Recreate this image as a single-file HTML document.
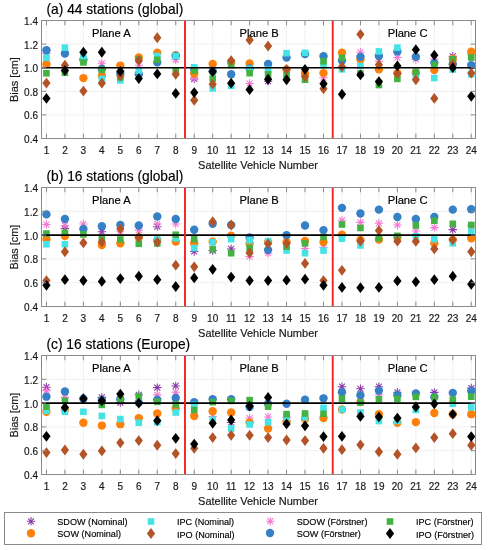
<!DOCTYPE html><html><head><meta charset="utf-8"><title>Bias</title><style>html,body{margin:0;padding:0;background:#fff;}svg{display:block;}</style></head><body><svg width="488" height="550" viewBox="0 0 488 550">
<rect width="488" height="550" fill="#fff"/>
<path d="M46.45 20.5V138.5M64.92 20.5V138.5M83.39 20.5V138.5M101.86 20.5V138.5M120.33 20.5V138.5M138.8 20.5V138.5M157.27 20.5V138.5M175.74 20.5V138.5M194.21 20.5V138.5M212.68 20.5V138.5M231.15 20.5V138.5M249.62 20.5V138.5M268.09 20.5V138.5M286.56 20.5V138.5M305.03 20.5V138.5M323.5 20.5V138.5M341.97 20.5V138.5M360.44 20.5V138.5M378.91 20.5V138.5M397.38 20.5V138.5M415.85 20.5V138.5M434.32 20.5V138.5M452.79 20.5V138.5M471.26 20.5V138.5M41.5 114.9H475.5M41.5 91.3H475.5M41.5 67.7H475.5M41.5 44.1H475.5" stroke="#f1f1f1" stroke-width="1" fill="none"/>
<path d="M190.01 78.91H198.41M194.21 74.71V83.11M191.24 75.94L197.18 81.88M191.24 81.88L197.18 75.94" stroke="#8a3aa6" stroke-width="1.05" fill="none"/>
<path d="M263.89 81.27H272.29M268.09 77.07V85.47M265.12 78.3L271.06 84.24M265.12 84.24L271.06 78.3" stroke="#8a3aa6" stroke-width="1.05" fill="none"/>
<path d="M448.59 56.25H456.99M452.79 52.05V60.45M449.82 53.28L455.76 59.22M449.82 59.22L455.76 53.28" stroke="#8a3aa6" stroke-width="1.05" fill="none"/>
<path d="M42.25 53.78H50.65M46.45 49.58V57.98M43.48 50.81L49.42 56.75M43.48 56.75L49.42 50.81" stroke="#f27ad2" stroke-width="1.05" fill="none"/>
<path d="M97.66 63.33H106.06M101.86 59.13V67.53M98.89 60.36L104.83 66.3M98.89 66.3L104.83 60.36" stroke="#f27ad2" stroke-width="1.05" fill="none"/>
<path d="M134.6 65.22H143M138.8 61.02V69.42M135.83 62.25L141.77 68.19M135.83 68.19L141.77 62.25" stroke="#f27ad2" stroke-width="1.05" fill="none"/>
<path d="M171.54 59.79H179.94M175.74 55.59V63.99M172.77 56.82L178.71 62.76M172.77 62.76L178.71 56.82" stroke="#f27ad2" stroke-width="1.05" fill="none"/>
<path d="M190.01 77.73H198.41M194.21 73.53V81.93M191.24 74.76L197.18 80.7M191.24 80.7L197.18 74.76" stroke="#f27ad2" stroke-width="1.05" fill="none"/>
<path d="M245.42 83.51H253.82M249.62 79.31V87.71M246.65 80.54L252.59 86.48M246.65 86.48L252.59 80.54" stroke="#f27ad2" stroke-width="1.05" fill="none"/>
<path d="M319.3 77.73H327.7M323.5 73.53V81.93M320.53 74.76L326.47 80.7M320.53 80.7L326.47 74.76" stroke="#f27ad2" stroke-width="1.05" fill="none"/>
<path d="M356.24 52.24H364.64M360.44 48.04V56.44M357.47 49.27L363.41 55.21M357.47 55.21L363.41 49.27" stroke="#f27ad2" stroke-width="1.05" fill="none"/>
<path d="M374.71 61.33H383.11M378.91 57.13V65.53M375.94 58.36L381.88 64.3M375.94 64.3L381.88 58.36" stroke="#f27ad2" stroke-width="1.05" fill="none"/>
<path d="M393.18 57.55H401.58M397.38 53.35V61.75M394.41 54.58L400.35 60.52M394.41 60.52L400.35 54.58" stroke="#f27ad2" stroke-width="1.05" fill="none"/>
<path d="M411.65 59.44H420.05M415.85 55.24V63.64M412.88 56.47L418.82 62.41M412.88 62.41L418.82 56.47" stroke="#f27ad2" stroke-width="1.05" fill="none"/>
<path d="M430.12 58.97H438.52M434.32 54.77V63.17M431.35 56L437.29 61.94M431.35 61.94L437.29 56" stroke="#f27ad2" stroke-width="1.05" fill="none"/>
<path d="M467.06 54.72H475.46M471.26 50.52V58.92M468.29 51.75L474.23 57.69M468.29 57.69L474.23 51.75" stroke="#f27ad2" stroke-width="1.05" fill="none"/>
<circle cx="46.45" cy="64.16" r="4.2" fill="#fd800a"/>
<circle cx="83.39" cy="78.08" r="4.2" fill="#fd800a"/>
<circle cx="101.86" cy="75.84" r="4.2" fill="#fd800a"/>
<circle cx="120.33" cy="65.58" r="4.2" fill="#fd800a"/>
<circle cx="138.8" cy="57.55" r="4.2" fill="#fd800a"/>
<circle cx="157.27" cy="52.6" r="4.2" fill="#fd800a"/>
<circle cx="175.74" cy="55.19" r="4.2" fill="#fd800a"/>
<circle cx="194.21" cy="73.48" r="4.2" fill="#fd800a"/>
<circle cx="212.68" cy="63.92" r="4.2" fill="#fd800a"/>
<circle cx="231.15" cy="62.39" r="4.2" fill="#fd800a"/>
<circle cx="249.62" cy="63.57" r="4.2" fill="#fd800a"/>
<circle cx="286.56" cy="69.35" r="4.2" fill="#fd800a"/>
<circle cx="305.03" cy="73.48" r="4.2" fill="#fd800a"/>
<circle cx="323.5" cy="73.13" r="4.2" fill="#fd800a"/>
<circle cx="341.97" cy="52.6" r="4.2" fill="#fd800a"/>
<circle cx="360.44" cy="59.44" r="4.2" fill="#fd800a"/>
<circle cx="378.91" cy="69.35" r="4.2" fill="#fd800a"/>
<circle cx="397.38" cy="73.13" r="4.2" fill="#fd800a"/>
<circle cx="415.85" cy="72.77" r="4.2" fill="#fd800a"/>
<circle cx="434.32" cy="70.06" r="4.2" fill="#fd800a"/>
<circle cx="452.79" cy="58.97" r="4.2" fill="#fd800a"/>
<circle cx="471.26" cy="51.77" r="4.2" fill="#fd800a"/>
<circle cx="46.45" cy="50.24" r="4.2" fill="#3680c6"/>
<circle cx="64.92" cy="53.54" r="4.2" fill="#3680c6"/>
<circle cx="83.39" cy="59.79" r="4.2" fill="#3680c6"/>
<circle cx="101.86" cy="69" r="4.2" fill="#3680c6"/>
<circle cx="120.33" cy="73.48" r="4.2" fill="#3680c6"/>
<circle cx="138.8" cy="74.31" r="4.2" fill="#3680c6"/>
<circle cx="157.27" cy="62.39" r="4.2" fill="#3680c6"/>
<circle cx="175.74" cy="55.9" r="4.2" fill="#3680c6"/>
<circle cx="194.21" cy="69.35" r="4.2" fill="#3680c6"/>
<circle cx="212.68" cy="71.24" r="4.2" fill="#3680c6"/>
<circle cx="231.15" cy="74.31" r="4.2" fill="#3680c6"/>
<circle cx="249.62" cy="68.53" r="4.2" fill="#3680c6"/>
<circle cx="268.09" cy="63.92" r="4.2" fill="#3680c6"/>
<circle cx="286.56" cy="57.55" r="4.2" fill="#3680c6"/>
<circle cx="305.03" cy="54.13" r="4.2" fill="#3680c6"/>
<circle cx="323.5" cy="56.25" r="4.2" fill="#3680c6"/>
<circle cx="341.97" cy="60.62" r="4.2" fill="#3680c6"/>
<circle cx="360.44" cy="56.84" r="4.2" fill="#3680c6"/>
<circle cx="378.91" cy="56.02" r="4.2" fill="#3680c6"/>
<circle cx="397.38" cy="51.42" r="4.2" fill="#3680c6"/>
<circle cx="415.85" cy="56.84" r="4.2" fill="#3680c6"/>
<circle cx="434.32" cy="62.86" r="4.2" fill="#3680c6"/>
<circle cx="452.79" cy="64.16" r="4.2" fill="#3680c6"/>
<circle cx="471.26" cy="65.22" r="4.2" fill="#3680c6"/>
<rect x="43.15" y="54.49" width="6.6" height="6.6" fill="#45e3e6"/>
<rect x="61.62" y="44.34" width="6.6" height="6.6" fill="#45e3e6"/>
<rect x="80.09" y="54.13" width="6.6" height="6.6" fill="#45e3e6"/>
<rect x="98.56" y="75.61" width="6.6" height="6.6" fill="#45e3e6"/>
<rect x="117.03" y="77.14" width="6.6" height="6.6" fill="#45e3e6"/>
<rect x="135.5" y="67.23" width="6.6" height="6.6" fill="#45e3e6"/>
<rect x="153.97" y="52.72" width="6.6" height="6.6" fill="#45e3e6"/>
<rect x="172.44" y="52.72" width="6.6" height="6.6" fill="#45e3e6"/>
<rect x="190.91" y="64.05" width="6.6" height="6.6" fill="#45e3e6"/>
<rect x="209.38" y="85.17" width="6.6" height="6.6" fill="#45e3e6"/>
<rect x="227.85" y="82.45" width="6.6" height="6.6" fill="#45e3e6"/>
<rect x="246.32" y="65.58" width="6.6" height="6.6" fill="#45e3e6"/>
<rect x="264.79" y="66.41" width="6.6" height="6.6" fill="#45e3e6"/>
<rect x="283.26" y="49.89" width="6.6" height="6.6" fill="#45e3e6"/>
<rect x="301.73" y="49.53" width="6.6" height="6.6" fill="#45e3e6"/>
<rect x="320.2" y="61.92" width="6.6" height="6.6" fill="#45e3e6"/>
<rect x="338.67" y="66.05" width="6.6" height="6.6" fill="#45e3e6"/>
<rect x="357.14" y="62.75" width="6.6" height="6.6" fill="#45e3e6"/>
<rect x="375.61" y="48.12" width="6.6" height="6.6" fill="#45e3e6"/>
<rect x="394.08" y="44.34" width="6.6" height="6.6" fill="#45e3e6"/>
<rect x="412.55" y="71.48" width="6.6" height="6.6" fill="#45e3e6"/>
<rect x="431.02" y="74.78" width="6.6" height="6.6" fill="#45e3e6"/>
<rect x="449.49" y="66.17" width="6.6" height="6.6" fill="#45e3e6"/>
<rect x="467.96" y="71.01" width="6.6" height="6.6" fill="#45e3e6"/>
<rect x="43.15" y="69.95" width="6.6" height="6.6" fill="#44b243"/>
<rect x="61.62" y="69.47" width="6.6" height="6.6" fill="#44b243"/>
<rect x="80.09" y="59.09" width="6.6" height="6.6" fill="#44b243"/>
<rect x="98.56" y="66.41" width="6.6" height="6.6" fill="#44b243"/>
<rect x="117.03" y="74.08" width="6.6" height="6.6" fill="#44b243"/>
<rect x="135.5" y="56.14" width="6.6" height="6.6" fill="#44b243"/>
<rect x="153.97" y="56.49" width="6.6" height="6.6" fill="#44b243"/>
<rect x="172.44" y="67.23" width="6.6" height="6.6" fill="#44b243"/>
<rect x="190.91" y="67.23" width="6.6" height="6.6" fill="#44b243"/>
<rect x="209.38" y="75.26" width="6.6" height="6.6" fill="#44b243"/>
<rect x="227.85" y="61.92" width="6.6" height="6.6" fill="#44b243"/>
<rect x="246.32" y="69.83" width="6.6" height="6.6" fill="#44b243"/>
<rect x="264.79" y="71.01" width="6.6" height="6.6" fill="#44b243"/>
<rect x="283.26" y="71.83" width="6.6" height="6.6" fill="#44b243"/>
<rect x="301.73" y="76.44" width="6.6" height="6.6" fill="#44b243"/>
<rect x="320.2" y="58.03" width="6.6" height="6.6" fill="#44b243"/>
<rect x="338.67" y="54.49" width="6.6" height="6.6" fill="#44b243"/>
<rect x="357.14" y="70.3" width="6.6" height="6.6" fill="#44b243"/>
<rect x="375.61" y="81.75" width="6.6" height="6.6" fill="#44b243"/>
<rect x="394.08" y="75.61" width="6.6" height="6.6" fill="#44b243"/>
<rect x="412.55" y="68.65" width="6.6" height="6.6" fill="#44b243"/>
<rect x="431.02" y="61.57" width="6.6" height="6.6" fill="#44b243"/>
<rect x="449.49" y="56.02" width="6.6" height="6.6" fill="#44b243"/>
<rect x="467.96" y="54.25" width="6.6" height="6.6" fill="#44b243"/>
<path d="M46.45 77.64L50.55 83.04L46.45 88.44L42.35 83.04Z" fill="#b25428"/>
<path d="M64.92 59.82L69.02 65.22L64.92 70.62L60.82 65.22Z" fill="#b25428"/>
<path d="M83.39 85.66L87.49 91.06L83.39 96.46L79.29 91.06Z" fill="#b25428"/>
<path d="M101.86 77.76L105.96 83.16L101.86 88.56L97.76 83.16Z" fill="#b25428"/>
<path d="M120.33 70.44L124.43 75.84L120.33 81.24L116.23 75.84Z" fill="#b25428"/>
<path d="M138.8 55.22L142.9 60.62L138.8 66.02L134.7 60.62Z" fill="#b25428"/>
<path d="M157.27 32.33L161.37 37.73L157.27 43.13L153.17 37.73Z" fill="#b25428"/>
<path d="M175.74 68.91L179.84 74.31L175.74 79.71L171.64 74.31Z" fill="#b25428"/>
<path d="M194.21 94.87L198.31 100.27L194.21 105.67L190.11 100.27Z" fill="#b25428"/>
<path d="M212.68 78.82L216.78 84.22L212.68 89.62L208.58 84.22Z" fill="#b25428"/>
<path d="M231.15 55.22L235.25 60.62L231.15 66.02L227.05 60.62Z" fill="#b25428"/>
<path d="M249.62 34.57L253.72 39.97L249.62 45.37L245.52 39.97Z" fill="#b25428"/>
<path d="M268.09 40.71L272.19 46.11L268.09 51.51L263.99 46.11Z" fill="#b25428"/>
<path d="M286.56 63.95L290.66 69.35L286.56 74.75L282.46 69.35Z" fill="#b25428"/>
<path d="M305.03 71.15L309.13 76.55L305.03 81.95L300.93 76.55Z" fill="#b25428"/>
<path d="M323.5 83.42L327.6 88.82L323.5 94.22L319.4 88.82Z" fill="#b25428"/>
<path d="M341.97 61.36L346.07 66.76L341.97 72.16L337.87 66.76Z" fill="#b25428"/>
<path d="M360.44 28.91L364.54 34.31L360.44 39.71L356.34 34.31Z" fill="#b25428"/>
<path d="M378.91 59.47L383.01 64.87L378.91 70.27L374.81 64.87Z" fill="#b25428"/>
<path d="M397.38 68.2L401.48 73.6L397.38 79L393.28 73.6Z" fill="#b25428"/>
<path d="M415.85 74.34L419.95 79.74L415.85 85.14L411.75 79.74Z" fill="#b25428"/>
<path d="M434.32 92.98L438.42 98.38L434.32 103.78L430.22 98.38Z" fill="#b25428"/>
<path d="M452.79 58.76L456.89 64.16L452.79 69.56L448.69 64.16Z" fill="#b25428"/>
<path d="M471.26 67.73L475.36 73.13L471.26 78.53L467.16 73.13Z" fill="#b25428"/>
<path d="M46.45 92.98L50.55 98.38L46.45 103.78L42.35 98.38Z" fill="#000000"/>
<path d="M64.92 65.13L69.02 70.53L64.92 75.93L60.82 70.53Z" fill="#000000"/>
<path d="M83.39 46.84L87.49 52.24L83.39 57.64L79.29 52.24Z" fill="#000000"/>
<path d="M101.86 46.84L105.96 52.24L101.86 57.64L97.76 52.24Z" fill="#000000"/>
<path d="M120.33 65.96L124.43 71.36L120.33 76.76L116.23 71.36Z" fill="#000000"/>
<path d="M138.8 73.16L142.9 78.56L138.8 83.96L134.7 78.56Z" fill="#000000"/>
<path d="M157.27 68.55L161.37 73.95L157.27 79.35L153.17 73.95Z" fill="#000000"/>
<path d="M175.74 88.02L179.84 93.42L175.74 98.82L171.64 93.42Z" fill="#000000"/>
<path d="M194.21 87.2L198.31 92.6L194.21 98L190.11 92.6Z" fill="#000000"/>
<path d="M212.68 66.31L216.78 71.71L212.68 77.11L208.58 71.71Z" fill="#000000"/>
<path d="M231.15 77.76L235.25 83.16L231.15 88.56L227.05 83.16Z" fill="#000000"/>
<path d="M249.62 84.25L253.72 89.65L249.62 95.05L245.52 89.65Z" fill="#000000"/>
<path d="M268.09 73.86L272.19 79.26L268.09 84.66L263.99 79.26Z" fill="#000000"/>
<path d="M286.56 74.34L290.66 79.74L286.56 85.14L282.46 79.74Z" fill="#000000"/>
<path d="M305.03 63.95L309.13 69.35L305.03 74.75L300.93 69.35Z" fill="#000000"/>
<path d="M323.5 78.35L327.6 83.75L323.5 89.15L319.4 83.75Z" fill="#000000"/>
<path d="M341.97 88.85L346.07 94.25L341.97 99.65L337.87 94.25Z" fill="#000000"/>
<path d="M360.44 69.38L364.54 74.78L360.44 80.18L356.34 74.78Z" fill="#000000"/>
<path d="M378.91 76.22L383.01 81.62L378.91 87.02L374.81 81.62Z" fill="#000000"/>
<path d="M397.38 60.53L401.48 65.93L397.38 71.33L393.28 65.93Z" fill="#000000"/>
<path d="M415.85 44.25L419.95 49.65L415.85 55.05L411.75 49.65Z" fill="#000000"/>
<path d="M434.32 49.79L438.42 55.19L434.32 60.59L430.22 55.19Z" fill="#000000"/>
<path d="M452.79 62.3L456.89 67.7L452.79 73.1L448.69 67.7Z" fill="#000000"/>
<path d="M471.26 90.97L475.36 96.37L471.26 101.77L467.16 96.37Z" fill="#000000"/>
<path d="M41.5 67.7H475.5" stroke="#000" stroke-width="1.6"/>
<path d="M184.97 20.5V138.5" stroke="#f02424" stroke-width="1.9"/>
<path d="M332.73 20.5V138.5" stroke="#f02424" stroke-width="1.9"/>
<path d="M46.45 138.5v-4.8M46.45 20.5v4.8M64.92 138.5v-4.8M64.92 20.5v4.8M83.39 138.5v-4.8M83.39 20.5v4.8M101.86 138.5v-4.8M101.86 20.5v4.8M120.33 138.5v-4.8M120.33 20.5v4.8M138.8 138.5v-4.8M138.8 20.5v4.8M157.27 138.5v-4.8M157.27 20.5v4.8M175.74 138.5v-4.8M175.74 20.5v4.8M194.21 138.5v-4.8M194.21 20.5v4.8M212.68 138.5v-4.8M212.68 20.5v4.8M231.15 138.5v-4.8M231.15 20.5v4.8M249.62 138.5v-4.8M249.62 20.5v4.8M268.09 138.5v-4.8M268.09 20.5v4.8M286.56 138.5v-4.8M286.56 20.5v4.8M305.03 138.5v-4.8M305.03 20.5v4.8M323.5 138.5v-4.8M323.5 20.5v4.8M341.97 138.5v-4.8M341.97 20.5v4.8M360.44 138.5v-4.8M360.44 20.5v4.8M378.91 138.5v-4.8M378.91 20.5v4.8M397.38 138.5v-4.8M397.38 20.5v4.8M415.85 138.5v-4.8M415.85 20.5v4.8M434.32 138.5v-4.8M434.32 20.5v4.8M452.79 138.5v-4.8M452.79 20.5v4.8M471.26 138.5v-4.8M471.26 20.5v4.8M41.5 114.9h4.8M475.5 114.9h-4.8M41.5 91.3h4.8M475.5 91.3h-4.8M41.5 67.7h4.8M475.5 67.7h-4.8M41.5 44.1h4.8M475.5 44.1h-4.8" stroke="#8a8a8a" stroke-width="1" fill="none"/>
<rect x="41.5" y="20.5" width="434.0" height="118.0" stroke="#8a8a8a" stroke-width="1" fill="none"/>
<g font-family="Liberation Sans, Arial, sans-serif" font-size="10" fill="#1a1a1a" stroke="#1a1a1a" stroke-width="0.18"><text x="46.45" y="153.7" text-anchor="middle">1</text><text x="64.92" y="153.7" text-anchor="middle">2</text><text x="83.39" y="153.7" text-anchor="middle">3</text><text x="101.86" y="153.7" text-anchor="middle">4</text><text x="120.33" y="153.7" text-anchor="middle">5</text><text x="138.8" y="153.7" text-anchor="middle">6</text><text x="157.27" y="153.7" text-anchor="middle">7</text><text x="175.74" y="153.7" text-anchor="middle">8</text><text x="194.21" y="153.7" text-anchor="middle">9</text><text x="212.68" y="153.7" text-anchor="middle">10</text><text x="231.15" y="153.7" text-anchor="middle">11</text><text x="249.62" y="153.7" text-anchor="middle">12</text><text x="268.09" y="153.7" text-anchor="middle">13</text><text x="286.56" y="153.7" text-anchor="middle">14</text><text x="305.03" y="153.7" text-anchor="middle">15</text><text x="323.5" y="153.7" text-anchor="middle">16</text><text x="341.97" y="153.7" text-anchor="middle">17</text><text x="360.44" y="153.7" text-anchor="middle">18</text><text x="378.91" y="153.7" text-anchor="middle">19</text><text x="397.38" y="153.7" text-anchor="middle">20</text><text x="415.85" y="153.7" text-anchor="middle">21</text><text x="434.32" y="153.7" text-anchor="middle">22</text><text x="452.79" y="153.7" text-anchor="middle">23</text><text x="471.26" y="153.7" text-anchor="middle">24</text><text x="38" y="142.9" text-anchor="end">0.4</text><text x="38" y="119.3" text-anchor="end">0.6</text><text x="38" y="95.7" text-anchor="end">0.8</text><text x="38" y="72.1" text-anchor="end">1.0</text><text x="38" y="48.5" text-anchor="end">1.2</text><text x="38" y="24.9" text-anchor="end">1.4</text></g>
<g font-family="Liberation Sans, Arial, sans-serif" font-size="11.2" fill="#000" stroke="#000" stroke-width="0.18"><text x="111.39" y="36.8" text-anchor="middle">Plane A</text><text x="259.15" y="36.8" text-anchor="middle">Plane B</text><text x="407.61" y="36.8" text-anchor="middle">Plane C</text></g>
<text font-family="Liberation Sans, Arial, sans-serif" font-size="13.75" fill="#000" stroke="#000" stroke-width="0.15" x="46.5" y="14.3">(a) 44 stations (global)</text>
<text font-family="Liberation Sans, Arial, sans-serif" font-size="11" fill="#1a1a1a" stroke="#1a1a1a" stroke-width="0.18" x="258" y="168.5" text-anchor="middle">Satellite Vehicle Number</text>
<text font-family="Liberation Sans, Arial, sans-serif" font-size="10.9" fill="#1a1a1a" stroke="#1a1a1a" stroke-width="0.18" transform="translate(18.2 79.5) rotate(-90)" text-anchor="middle">Bias [cm]</text>
<path d="M46.45 187.5V306.5M64.92 187.5V306.5M83.39 187.5V306.5M101.86 187.5V306.5M120.33 187.5V306.5M138.8 187.5V306.5M157.27 187.5V306.5M175.74 187.5V306.5M194.21 187.5V306.5M212.68 187.5V306.5M231.15 187.5V306.5M249.62 187.5V306.5M268.09 187.5V306.5M286.56 187.5V306.5M305.03 187.5V306.5M323.5 187.5V306.5M341.97 187.5V306.5M360.44 187.5V306.5M378.91 187.5V306.5M397.38 187.5V306.5M415.85 187.5V306.5M434.32 187.5V306.5M452.79 187.5V306.5M471.26 187.5V306.5M41.5 282.7H475.5M41.5 258.9H475.5M41.5 235.1H475.5M41.5 211.3H475.5" stroke="#f1f1f1" stroke-width="1" fill="none"/>
<path d="M60.72 228.56H69.12M64.92 224.36V232.75M61.95 225.59L67.89 231.52M61.95 231.52L67.89 225.59" stroke="#8a3aa6" stroke-width="1.05" fill="none"/>
<path d="M97.66 231.77H106.06M101.86 227.57V235.97M98.89 228.8L104.83 234.74M98.89 234.74L104.83 228.8" stroke="#8a3aa6" stroke-width="1.05" fill="none"/>
<path d="M153.07 226.65H161.47M157.27 222.45V230.85M154.3 223.68L160.24 229.62M154.3 229.62L160.24 223.68" stroke="#8a3aa6" stroke-width="1.05" fill="none"/>
<path d="M190.01 251.52H198.41M194.21 247.32V255.72M191.24 248.55L197.18 254.49M191.24 254.49L197.18 248.55" stroke="#8a3aa6" stroke-width="1.05" fill="none"/>
<path d="M208.48 250.57H216.88M212.68 246.37V254.77M209.71 247.6L215.65 253.54M209.71 253.54L215.65 247.6" stroke="#8a3aa6" stroke-width="1.05" fill="none"/>
<path d="M226.95 248.9H235.35M231.15 244.7V253.1M228.18 245.93L234.12 251.87M228.18 251.87L234.12 245.93" stroke="#8a3aa6" stroke-width="1.05" fill="none"/>
<path d="M448.59 229.63H456.99M452.79 225.43V233.83M449.82 226.66L455.76 232.6M449.82 232.6L455.76 226.66" stroke="#8a3aa6" stroke-width="1.05" fill="none"/>
<path d="M42.25 224.51H50.65M46.45 220.31V228.71M43.48 221.54L49.42 227.48M43.48 227.48L49.42 221.54" stroke="#f27ad2" stroke-width="1.05" fill="none"/>
<path d="M60.72 225.46H69.12M64.92 221.26V229.66M61.95 222.49L67.89 228.43M61.95 228.43L67.89 222.49" stroke="#f27ad2" stroke-width="1.05" fill="none"/>
<path d="M79.19 224.03H87.59M83.39 219.83V228.23M80.42 221.06L86.36 227M80.42 227L86.36 221.06" stroke="#f27ad2" stroke-width="1.05" fill="none"/>
<path d="M116.13 231.77H124.53M120.33 227.57V235.97M117.36 228.8L123.3 234.74M117.36 234.74L123.3 228.8" stroke="#f27ad2" stroke-width="1.05" fill="none"/>
<path d="M134.6 230.1H143M138.8 225.9V234.3M135.83 227.13L141.77 233.07M135.83 233.07L141.77 227.13" stroke="#f27ad2" stroke-width="1.05" fill="none"/>
<path d="M153.07 224.03H161.47M157.27 219.83V228.23M154.3 221.06L160.24 227M154.3 227L160.24 221.06" stroke="#f27ad2" stroke-width="1.05" fill="none"/>
<path d="M171.54 224.03H179.94M175.74 219.83V228.23M172.77 221.06L178.71 227M172.77 227L178.71 221.06" stroke="#f27ad2" stroke-width="1.05" fill="none"/>
<path d="M245.42 256.64H253.82M249.62 252.44V260.84M246.65 253.67L252.59 259.61M246.65 259.61L252.59 253.67" stroke="#f27ad2" stroke-width="1.05" fill="none"/>
<path d="M263.89 253.19H272.29M268.09 248.99V257.39M265.12 250.22L271.06 256.16M265.12 256.16L271.06 250.22" stroke="#f27ad2" stroke-width="1.05" fill="none"/>
<path d="M300.83 248.43H309.23M305.03 244.23V252.63M302.06 245.46L308 251.4M302.06 251.4L308 245.46" stroke="#f27ad2" stroke-width="1.05" fill="none"/>
<path d="M319.3 247.24H327.7M323.5 243.04V251.44M320.53 244.27L326.47 250.21M320.53 250.21L326.47 244.27" stroke="#f27ad2" stroke-width="1.05" fill="none"/>
<path d="M337.77 220.34H346.17M341.97 216.14V224.54M339 217.37L344.94 223.31M339 223.31L344.94 217.37" stroke="#f27ad2" stroke-width="1.05" fill="none"/>
<path d="M356.24 222.37H364.64M360.44 218.17V226.57M357.47 219.4L363.41 225.34M357.47 225.34L363.41 219.4" stroke="#f27ad2" stroke-width="1.05" fill="none"/>
<path d="M374.71 223.32H383.11M378.91 219.12V227.52M375.94 220.35L381.88 226.29M375.94 226.29L381.88 220.35" stroke="#f27ad2" stroke-width="1.05" fill="none"/>
<path d="M393.18 224.99H401.58M397.38 220.79V229.19M394.41 222.02L400.35 227.95M394.41 227.95L400.35 222.02" stroke="#f27ad2" stroke-width="1.05" fill="none"/>
<path d="M411.65 231.05H420.05M415.85 226.85V235.25M412.88 228.08L418.82 234.02M412.88 234.02L418.82 228.08" stroke="#f27ad2" stroke-width="1.05" fill="none"/>
<path d="M430.12 227.6H438.52M434.32 223.4V231.8M431.35 224.63L437.29 230.57M431.35 230.57L437.29 224.63" stroke="#f27ad2" stroke-width="1.05" fill="none"/>
<path d="M467.06 225.58H475.46M471.26 221.38V229.78M468.29 222.61L474.23 228.55M468.29 228.55L474.23 222.61" stroke="#f27ad2" stroke-width="1.05" fill="none"/>
<circle cx="46.45" cy="239.15" r="4.2" fill="#fd800a"/>
<circle cx="64.92" cy="236.05" r="4.2" fill="#fd800a"/>
<circle cx="101.86" cy="244.98" r="4.2" fill="#fd800a"/>
<circle cx="120.33" cy="243.31" r="4.2" fill="#fd800a"/>
<circle cx="138.8" cy="237.48" r="4.2" fill="#fd800a"/>
<circle cx="157.27" cy="239.86" r="4.2" fill="#fd800a"/>
<circle cx="175.74" cy="241.65" r="4.2" fill="#fd800a"/>
<circle cx="194.21" cy="243.31" r="4.2" fill="#fd800a"/>
<circle cx="212.68" cy="241.65" r="4.2" fill="#fd800a"/>
<circle cx="231.15" cy="235.81" r="4.2" fill="#fd800a"/>
<circle cx="249.62" cy="243.43" r="4.2" fill="#fd800a"/>
<circle cx="268.09" cy="242.12" r="4.2" fill="#fd800a"/>
<circle cx="286.56" cy="242.12" r="4.2" fill="#fd800a"/>
<circle cx="305.03" cy="240.93" r="4.2" fill="#fd800a"/>
<circle cx="323.5" cy="242.12" r="4.2" fill="#fd800a"/>
<circle cx="341.97" cy="234.74" r="4.2" fill="#fd800a"/>
<circle cx="360.44" cy="239.86" r="4.2" fill="#fd800a"/>
<circle cx="378.91" cy="239.5" r="4.2" fill="#fd800a"/>
<circle cx="397.38" cy="237.48" r="4.2" fill="#fd800a"/>
<circle cx="434.32" cy="243.31" r="4.2" fill="#fd800a"/>
<circle cx="452.79" cy="239.86" r="4.2" fill="#fd800a"/>
<circle cx="471.26" cy="238.19" r="4.2" fill="#fd800a"/>
<circle cx="46.45" cy="214.39" r="4.2" fill="#3680c6"/>
<circle cx="64.92" cy="219.03" r="4.2" fill="#3680c6"/>
<circle cx="83.39" cy="228.91" r="4.2" fill="#3680c6"/>
<circle cx="101.86" cy="226.18" r="4.2" fill="#3680c6"/>
<circle cx="120.33" cy="224.99" r="4.2" fill="#3680c6"/>
<circle cx="138.8" cy="225.46" r="4.2" fill="#3680c6"/>
<circle cx="157.27" cy="216.42" r="4.2" fill="#3680c6"/>
<circle cx="175.74" cy="219.03" r="4.2" fill="#3680c6"/>
<circle cx="194.21" cy="229.75" r="4.2" fill="#3680c6"/>
<circle cx="212.68" cy="223.8" r="4.2" fill="#3680c6"/>
<circle cx="231.15" cy="224.99" r="4.2" fill="#3680c6"/>
<circle cx="249.62" cy="237.48" r="4.2" fill="#3680c6"/>
<circle cx="268.09" cy="249.86" r="4.2" fill="#3680c6"/>
<circle cx="286.56" cy="235.22" r="4.2" fill="#3680c6"/>
<circle cx="305.03" cy="225.46" r="4.2" fill="#3680c6"/>
<circle cx="323.5" cy="230.1" r="4.2" fill="#3680c6"/>
<circle cx="341.97" cy="207.85" r="4.2" fill="#3680c6"/>
<circle cx="360.44" cy="213.44" r="4.2" fill="#3680c6"/>
<circle cx="378.91" cy="209.63" r="4.2" fill="#3680c6"/>
<circle cx="397.38" cy="217.01" r="4.2" fill="#3680c6"/>
<circle cx="415.85" cy="219.03" r="4.2" fill="#3680c6"/>
<circle cx="434.32" cy="217.01" r="4.2" fill="#3680c6"/>
<circle cx="452.79" cy="209.63" r="4.2" fill="#3680c6"/>
<circle cx="471.26" cy="209.16" r="4.2" fill="#3680c6"/>
<rect x="43.15" y="240.96" width="6.6" height="6.6" fill="#45e3e6"/>
<rect x="61.62" y="240.96" width="6.6" height="6.6" fill="#45e3e6"/>
<rect x="153.97" y="236.2" width="6.6" height="6.6" fill="#45e3e6"/>
<rect x="172.44" y="235.01" width="6.6" height="6.6" fill="#45e3e6"/>
<rect x="190.91" y="244.77" width="6.6" height="6.6" fill="#45e3e6"/>
<rect x="209.38" y="238.94" width="6.6" height="6.6" fill="#45e3e6"/>
<rect x="227.85" y="235.85" width="6.6" height="6.6" fill="#45e3e6"/>
<rect x="246.32" y="237.04" width="6.6" height="6.6" fill="#45e3e6"/>
<rect x="264.79" y="237.75" width="6.6" height="6.6" fill="#45e3e6"/>
<rect x="283.26" y="247.27" width="6.6" height="6.6" fill="#45e3e6"/>
<rect x="301.73" y="249.89" width="6.6" height="6.6" fill="#45e3e6"/>
<rect x="320.2" y="247.27" width="6.6" height="6.6" fill="#45e3e6"/>
<rect x="338.67" y="235.37" width="6.6" height="6.6" fill="#45e3e6"/>
<rect x="357.14" y="242.15" width="6.6" height="6.6" fill="#45e3e6"/>
<rect x="412.55" y="232.99" width="6.6" height="6.6" fill="#45e3e6"/>
<rect x="431.02" y="235.85" width="6.6" height="6.6" fill="#45e3e6"/>
<rect x="449.49" y="240.01" width="6.6" height="6.6" fill="#45e3e6"/>
<rect x="467.96" y="228.47" width="6.6" height="6.6" fill="#45e3e6"/>
<rect x="43.15" y="230.25" width="6.6" height="6.6" fill="#44b243"/>
<rect x="61.62" y="229.42" width="6.6" height="6.6" fill="#44b243"/>
<rect x="80.09" y="231.09" width="6.6" height="6.6" fill="#44b243"/>
<rect x="98.56" y="235.37" width="6.6" height="6.6" fill="#44b243"/>
<rect x="117.03" y="236.2" width="6.6" height="6.6" fill="#44b243"/>
<rect x="135.5" y="240.49" width="6.6" height="6.6" fill="#44b243"/>
<rect x="153.97" y="240.13" width="6.6" height="6.6" fill="#44b243"/>
<rect x="172.44" y="231.44" width="6.6" height="6.6" fill="#44b243"/>
<rect x="190.91" y="235.85" width="6.6" height="6.6" fill="#44b243"/>
<rect x="209.38" y="246.08" width="6.6" height="6.6" fill="#44b243"/>
<rect x="227.85" y="249.89" width="6.6" height="6.6" fill="#44b243"/>
<rect x="246.32" y="244.77" width="6.6" height="6.6" fill="#44b243"/>
<rect x="283.26" y="243.34" width="6.6" height="6.6" fill="#44b243"/>
<rect x="301.73" y="240.01" width="6.6" height="6.6" fill="#44b243"/>
<rect x="320.2" y="233.7" width="6.6" height="6.6" fill="#44b243"/>
<rect x="338.67" y="221.21" width="6.6" height="6.6" fill="#44b243"/>
<rect x="357.14" y="224.66" width="6.6" height="6.6" fill="#44b243"/>
<rect x="375.61" y="234.89" width="6.6" height="6.6" fill="#44b243"/>
<rect x="394.08" y="232.51" width="6.6" height="6.6" fill="#44b243"/>
<rect x="412.55" y="222.16" width="6.6" height="6.6" fill="#44b243"/>
<rect x="431.02" y="217.4" width="6.6" height="6.6" fill="#44b243"/>
<rect x="449.49" y="220.5" width="6.6" height="6.6" fill="#44b243"/>
<rect x="467.96" y="221.69" width="6.6" height="6.6" fill="#44b243"/>
<path d="M46.45 275.16L50.55 280.56L46.45 285.96L42.35 280.56Z" fill="#b25428"/>
<path d="M64.92 246.36L69.02 251.76L64.92 257.16L60.82 251.76Z" fill="#b25428"/>
<path d="M83.39 237.55L87.49 242.95L83.39 248.35L79.29 242.95Z" fill="#b25428"/>
<path d="M101.86 236.72L105.96 242.12L101.86 247.52L97.76 242.12Z" fill="#b25428"/>
<path d="M120.33 223.51L124.43 228.91L120.33 234.31L116.23 228.91Z" fill="#b25428"/>
<path d="M138.8 231.6L142.9 237L138.8 242.4L134.7 237Z" fill="#b25428"/>
<path d="M157.27 236.72L161.37 242.12L157.27 247.52L153.17 242.12Z" fill="#b25428"/>
<path d="M175.74 259.81L179.84 265.21L175.74 270.61L171.64 265.21Z" fill="#b25428"/>
<path d="M194.21 261.47L198.31 266.87L194.21 272.27L190.11 266.87Z" fill="#b25428"/>
<path d="M212.68 216.25L216.78 221.65L212.68 227.05L208.58 221.65Z" fill="#b25428"/>
<path d="M231.15 219.59L235.25 224.99L231.15 230.39L227.05 224.99Z" fill="#b25428"/>
<path d="M249.62 247.43L253.72 252.83L249.62 258.23L245.52 252.83Z" fill="#b25428"/>
<path d="M268.09 238.39L272.19 243.79L268.09 249.19L263.99 243.79Z" fill="#b25428"/>
<path d="M286.56 237.91L290.66 243.31L286.56 248.71L282.46 243.31Z" fill="#b25428"/>
<path d="M305.03 258.02L309.13 263.42L305.03 268.82L300.93 263.42Z" fill="#b25428"/>
<path d="M323.5 275.16L327.6 280.56L323.5 285.96L319.4 280.56Z" fill="#b25428"/>
<path d="M341.97 264.92L346.07 270.32L341.97 275.72L337.87 270.32Z" fill="#b25428"/>
<path d="M360.44 235.77L364.54 241.17L360.44 246.57L356.34 241.17Z" fill="#b25428"/>
<path d="M378.91 225.18L383.01 230.58L378.91 235.98L374.81 230.58Z" fill="#b25428"/>
<path d="M397.38 235.77L401.48 241.17L397.38 246.57L393.28 241.17Z" fill="#b25428"/>
<path d="M415.85 236.01L419.95 241.41L415.85 246.81L411.75 241.41Z" fill="#b25428"/>
<path d="M434.32 243.5L438.42 248.9L434.32 254.3L430.22 248.9Z" fill="#b25428"/>
<path d="M452.79 234.46L456.89 239.86L452.79 245.26L448.69 239.86Z" fill="#b25428"/>
<path d="M471.26 246.36L475.36 251.76L471.26 257.16L467.16 251.76Z" fill="#b25428"/>
<path d="M46.45 279.92L50.55 285.32L46.45 290.72L42.35 285.32Z" fill="#000000"/>
<path d="M64.92 274.33L69.02 279.73L64.92 285.12L60.82 279.73Z" fill="#000000"/>
<path d="M83.39 275.16L87.49 280.56L83.39 285.96L79.29 280.56Z" fill="#000000"/>
<path d="M101.86 275.99L105.96 281.39L101.86 286.79L97.76 281.39Z" fill="#000000"/>
<path d="M120.33 273.13L124.43 278.53L120.33 283.93L116.23 278.53Z" fill="#000000"/>
<path d="M138.8 270.87L142.9 276.27L138.8 281.67L134.7 276.27Z" fill="#000000"/>
<path d="M157.27 274.33L161.37 279.73L157.27 285.12L153.17 279.73Z" fill="#000000"/>
<path d="M175.74 281.11L179.84 286.51L175.74 291.91L171.64 286.51Z" fill="#000000"/>
<path d="M194.21 272.54L198.31 277.94L194.21 283.34L190.11 277.94Z" fill="#000000"/>
<path d="M212.68 263.97L216.78 269.37L212.68 274.77L208.58 269.37Z" fill="#000000"/>
<path d="M231.15 271.71L235.25 277.11L231.15 282.51L227.05 277.11Z" fill="#000000"/>
<path d="M249.62 275.16L253.72 280.56L249.62 285.96L245.52 280.56Z" fill="#000000"/>
<path d="M268.09 275.16L272.19 280.56L268.09 285.96L263.99 280.56Z" fill="#000000"/>
<path d="M286.56 274.8L290.66 280.2L286.56 285.6L282.46 280.2Z" fill="#000000"/>
<path d="M305.03 273.73L309.13 279.13L305.03 284.53L300.93 279.13Z" fill="#000000"/>
<path d="M323.5 279.92L327.6 285.32L323.5 290.72L319.4 285.32Z" fill="#000000"/>
<path d="M341.97 282.06L346.07 287.46L341.97 292.86L337.87 287.46Z" fill="#000000"/>
<path d="M360.44 282.3L364.54 287.7L360.44 293.1L356.34 287.7Z" fill="#000000"/>
<path d="M378.91 282.06L383.01 287.46L378.91 292.86L374.81 287.46Z" fill="#000000"/>
<path d="M397.38 275.52L401.48 280.92L397.38 286.31L393.28 280.92Z" fill="#000000"/>
<path d="M415.85 276.47L419.95 281.87L415.85 287.27L411.75 281.87Z" fill="#000000"/>
<path d="M434.32 274.33L438.42 279.73L434.32 285.12L430.22 279.73Z" fill="#000000"/>
<path d="M452.79 270.87L456.89 276.27L452.79 281.67L448.69 276.27Z" fill="#000000"/>
<path d="M471.26 278.85L475.36 284.25L471.26 289.65L467.16 284.25Z" fill="#000000"/>
<path d="M41.5 235.1H475.5" stroke="#000" stroke-width="1.6"/>
<path d="M184.97 187.5V306.5" stroke="#f02424" stroke-width="1.9"/>
<path d="M332.73 187.5V306.5" stroke="#f02424" stroke-width="1.9"/>
<path d="M46.45 306.5v-4.8M46.45 187.5v4.8M64.92 306.5v-4.8M64.92 187.5v4.8M83.39 306.5v-4.8M83.39 187.5v4.8M101.86 306.5v-4.8M101.86 187.5v4.8M120.33 306.5v-4.8M120.33 187.5v4.8M138.8 306.5v-4.8M138.8 187.5v4.8M157.27 306.5v-4.8M157.27 187.5v4.8M175.74 306.5v-4.8M175.74 187.5v4.8M194.21 306.5v-4.8M194.21 187.5v4.8M212.68 306.5v-4.8M212.68 187.5v4.8M231.15 306.5v-4.8M231.15 187.5v4.8M249.62 306.5v-4.8M249.62 187.5v4.8M268.09 306.5v-4.8M268.09 187.5v4.8M286.56 306.5v-4.8M286.56 187.5v4.8M305.03 306.5v-4.8M305.03 187.5v4.8M323.5 306.5v-4.8M323.5 187.5v4.8M341.97 306.5v-4.8M341.97 187.5v4.8M360.44 306.5v-4.8M360.44 187.5v4.8M378.91 306.5v-4.8M378.91 187.5v4.8M397.38 306.5v-4.8M397.38 187.5v4.8M415.85 306.5v-4.8M415.85 187.5v4.8M434.32 306.5v-4.8M434.32 187.5v4.8M452.79 306.5v-4.8M452.79 187.5v4.8M471.26 306.5v-4.8M471.26 187.5v4.8M41.5 282.7h4.8M475.5 282.7h-4.8M41.5 258.9h4.8M475.5 258.9h-4.8M41.5 235.1h4.8M475.5 235.1h-4.8M41.5 211.3h4.8M475.5 211.3h-4.8" stroke="#8a8a8a" stroke-width="1" fill="none"/>
<rect x="41.5" y="187.5" width="434.0" height="119.0" stroke="#8a8a8a" stroke-width="1" fill="none"/>
<g font-family="Liberation Sans, Arial, sans-serif" font-size="10" fill="#1a1a1a" stroke="#1a1a1a" stroke-width="0.18"><text x="46.45" y="321.7" text-anchor="middle">1</text><text x="64.92" y="321.7" text-anchor="middle">2</text><text x="83.39" y="321.7" text-anchor="middle">3</text><text x="101.86" y="321.7" text-anchor="middle">4</text><text x="120.33" y="321.7" text-anchor="middle">5</text><text x="138.8" y="321.7" text-anchor="middle">6</text><text x="157.27" y="321.7" text-anchor="middle">7</text><text x="175.74" y="321.7" text-anchor="middle">8</text><text x="194.21" y="321.7" text-anchor="middle">9</text><text x="212.68" y="321.7" text-anchor="middle">10</text><text x="231.15" y="321.7" text-anchor="middle">11</text><text x="249.62" y="321.7" text-anchor="middle">12</text><text x="268.09" y="321.7" text-anchor="middle">13</text><text x="286.56" y="321.7" text-anchor="middle">14</text><text x="305.03" y="321.7" text-anchor="middle">15</text><text x="323.5" y="321.7" text-anchor="middle">16</text><text x="341.97" y="321.7" text-anchor="middle">17</text><text x="360.44" y="321.7" text-anchor="middle">18</text><text x="378.91" y="321.7" text-anchor="middle">19</text><text x="397.38" y="321.7" text-anchor="middle">20</text><text x="415.85" y="321.7" text-anchor="middle">21</text><text x="434.32" y="321.7" text-anchor="middle">22</text><text x="452.79" y="321.7" text-anchor="middle">23</text><text x="471.26" y="321.7" text-anchor="middle">24</text><text x="38" y="310.9" text-anchor="end">0.4</text><text x="38" y="287.1" text-anchor="end">0.6</text><text x="38" y="263.3" text-anchor="end">0.8</text><text x="38" y="239.5" text-anchor="end">1.0</text><text x="38" y="215.7" text-anchor="end">1.2</text><text x="38" y="191.9" text-anchor="end">1.4</text></g>
<g font-family="Liberation Sans, Arial, sans-serif" font-size="11.2" fill="#000" stroke="#000" stroke-width="0.18"><text x="111.39" y="203.8" text-anchor="middle">Plane A</text><text x="259.15" y="203.8" text-anchor="middle">Plane B</text><text x="407.61" y="203.8" text-anchor="middle">Plane C</text></g>
<text font-family="Liberation Sans, Arial, sans-serif" font-size="13.75" fill="#000" stroke="#000" stroke-width="0.15" x="46.5" y="181.3">(b) 16 stations (global)</text>
<text font-family="Liberation Sans, Arial, sans-serif" font-size="11" fill="#1a1a1a" stroke="#1a1a1a" stroke-width="0.18" x="258" y="336.5" text-anchor="middle">Satellite Vehicle Number</text>
<text font-family="Liberation Sans, Arial, sans-serif" font-size="10.9" fill="#1a1a1a" stroke="#1a1a1a" stroke-width="0.18" transform="translate(18.2 247) rotate(-90)" text-anchor="middle">Bias [cm]</text>
<path d="M46.45 355.5V474.5M64.92 355.5V474.5M83.39 355.5V474.5M101.86 355.5V474.5M120.33 355.5V474.5M138.8 355.5V474.5M157.27 355.5V474.5M175.74 355.5V474.5M194.21 355.5V474.5M212.68 355.5V474.5M231.15 355.5V474.5M249.62 355.5V474.5M268.09 355.5V474.5M286.56 355.5V474.5M305.03 355.5V474.5M323.5 355.5V474.5M341.97 355.5V474.5M360.44 355.5V474.5M378.91 355.5V474.5M397.38 355.5V474.5M415.85 355.5V474.5M434.32 355.5V474.5M452.79 355.5V474.5M471.26 355.5V474.5M41.5 450.7H475.5M41.5 426.9H475.5M41.5 403.1H475.5M41.5 379.3H475.5" stroke="#f1f1f1" stroke-width="1" fill="none"/>
<path d="M42.25 387.15H50.65M46.45 382.95V391.35M43.48 384.18L49.42 390.12M43.48 390.12L49.42 384.18" stroke="#8a3aa6" stroke-width="1.05" fill="none"/>
<path d="M97.66 397.39H106.06M101.86 393.19V401.59M98.89 394.42L104.83 400.36M98.89 400.36L104.83 394.42" stroke="#8a3aa6" stroke-width="1.05" fill="none"/>
<path d="M116.13 402.62H124.53M120.33 398.42V406.82M117.36 399.65L123.3 405.59M117.36 405.59L123.3 399.65" stroke="#8a3aa6" stroke-width="1.05" fill="none"/>
<path d="M134.6 394.77H143M138.8 390.57V398.97M135.83 391.8L141.77 397.74M135.83 397.74L141.77 391.8" stroke="#8a3aa6" stroke-width="1.05" fill="none"/>
<path d="M153.07 387.63H161.47M157.27 383.43V391.83M154.3 384.66L160.24 390.6M154.3 390.6L160.24 384.66" stroke="#8a3aa6" stroke-width="1.05" fill="none"/>
<path d="M171.54 385.96H179.94M175.74 381.76V390.16M172.77 382.99L178.71 388.93M172.77 388.93L178.71 382.99" stroke="#8a3aa6" stroke-width="1.05" fill="none"/>
<path d="M226.95 422.5H235.35M231.15 418.3V426.7M228.18 419.53L234.12 425.47M228.18 425.47L234.12 419.53" stroke="#8a3aa6" stroke-width="1.05" fill="none"/>
<path d="M337.77 386.68H346.17M341.97 382.48V390.88M339 383.71L344.94 389.65M339 389.65L344.94 383.71" stroke="#8a3aa6" stroke-width="1.05" fill="none"/>
<path d="M356.24 388.82H364.64M360.44 384.62V393.02M357.47 385.85L363.41 391.79M357.47 391.79L363.41 385.85" stroke="#8a3aa6" stroke-width="1.05" fill="none"/>
<path d="M374.71 386.68H383.11M378.91 382.48V390.88M375.94 383.71L381.88 389.65M375.94 389.65L381.88 383.71" stroke="#8a3aa6" stroke-width="1.05" fill="none"/>
<path d="M393.18 392.27H401.58M397.38 388.07V396.47M394.41 389.3L400.35 395.24M394.41 395.24L400.35 389.3" stroke="#8a3aa6" stroke-width="1.05" fill="none"/>
<path d="M430.12 392.39H438.52M434.32 388.19V396.59M431.35 389.42L437.29 395.36M431.35 395.36L437.29 389.42" stroke="#8a3aa6" stroke-width="1.05" fill="none"/>
<path d="M467.06 387.99H475.46M471.26 383.79V392.19M468.29 385.02L474.23 390.96M468.29 390.96L474.23 385.02" stroke="#8a3aa6" stroke-width="1.05" fill="none"/>
<path d="M42.25 390.61H50.65M46.45 386.41V394.81M43.48 387.64L49.42 393.57M43.48 393.57L49.42 387.64" stroke="#f27ad2" stroke-width="1.05" fill="none"/>
<path d="M60.72 397.39H69.12M64.92 393.19V401.59M61.95 394.42L67.89 400.36M61.95 400.36L67.89 394.42" stroke="#f27ad2" stroke-width="1.05" fill="none"/>
<path d="M153.07 394.89H161.47M157.27 390.69V399.09M154.3 391.92L160.24 397.86M154.3 397.86L160.24 391.92" stroke="#f27ad2" stroke-width="1.05" fill="none"/>
<path d="M171.54 392.27H179.94M175.74 388.07V396.47M172.77 389.3L178.71 395.24M172.77 395.24L178.71 389.3" stroke="#f27ad2" stroke-width="1.05" fill="none"/>
<path d="M208.48 416.43H216.88M212.68 412.23V420.63M209.71 413.46L215.65 419.4M209.71 419.4L215.65 413.46" stroke="#f27ad2" stroke-width="1.05" fill="none"/>
<path d="M245.42 418.09H253.82M249.62 413.89V422.29M246.65 415.12L252.59 421.06M246.65 421.06L252.59 415.12" stroke="#f27ad2" stroke-width="1.05" fill="none"/>
<path d="M263.89 416.9H272.29M268.09 412.7V421.1M265.12 413.93L271.06 419.87M265.12 419.87L271.06 413.93" stroke="#f27ad2" stroke-width="1.05" fill="none"/>
<path d="M282.36 417.38H290.76M286.56 413.18V421.58M283.59 414.41L289.53 420.35M283.59 420.35L289.53 414.41" stroke="#f27ad2" stroke-width="1.05" fill="none"/>
<path d="M374.71 394.77H383.11M378.91 390.57V398.97M375.94 391.8L381.88 397.74M375.94 397.74L381.88 391.8" stroke="#f27ad2" stroke-width="1.05" fill="none"/>
<circle cx="46.45" cy="411.79" r="4.2" fill="#fd800a"/>
<circle cx="64.92" cy="409.53" r="4.2" fill="#fd800a"/>
<circle cx="83.39" cy="422.74" r="4.2" fill="#fd800a"/>
<circle cx="101.86" cy="425.59" r="4.2" fill="#fd800a"/>
<circle cx="120.33" cy="424.16" r="4.2" fill="#fd800a"/>
<circle cx="138.8" cy="418.09" r="4.2" fill="#fd800a"/>
<circle cx="157.27" cy="413.45" r="4.2" fill="#fd800a"/>
<circle cx="175.74" cy="408.69" r="4.2" fill="#fd800a"/>
<circle cx="194.21" cy="415.95" r="4.2" fill="#fd800a"/>
<circle cx="212.68" cy="411.31" r="4.2" fill="#fd800a"/>
<circle cx="231.15" cy="412.5" r="4.2" fill="#fd800a"/>
<circle cx="249.62" cy="422.5" r="4.2" fill="#fd800a"/>
<circle cx="268.09" cy="428.57" r="4.2" fill="#fd800a"/>
<circle cx="286.56" cy="421.55" r="4.2" fill="#fd800a"/>
<circle cx="305.03" cy="419.05" r="4.2" fill="#fd800a"/>
<circle cx="323.5" cy="418.09" r="4.2" fill="#fd800a"/>
<circle cx="341.97" cy="409.53" r="4.2" fill="#fd800a"/>
<circle cx="360.44" cy="402.15" r="4.2" fill="#fd800a"/>
<circle cx="378.91" cy="414.17" r="4.2" fill="#fd800a"/>
<circle cx="397.38" cy="422.74" r="4.2" fill="#fd800a"/>
<circle cx="415.85" cy="422.14" r="4.2" fill="#fd800a"/>
<circle cx="434.32" cy="412.98" r="4.2" fill="#fd800a"/>
<circle cx="452.79" cy="414.17" r="4.2" fill="#fd800a"/>
<circle cx="471.26" cy="414.17" r="4.2" fill="#fd800a"/>
<circle cx="46.45" cy="396.67" r="4.2" fill="#3680c6"/>
<circle cx="64.92" cy="391.44" r="4.2" fill="#3680c6"/>
<circle cx="83.39" cy="398.7" r="4.2" fill="#3680c6"/>
<circle cx="101.86" cy="400.12" r="4.2" fill="#3680c6"/>
<circle cx="120.33" cy="399.17" r="4.2" fill="#3680c6"/>
<circle cx="138.8" cy="402.62" r="4.2" fill="#3680c6"/>
<circle cx="157.27" cy="399.65" r="4.2" fill="#3680c6"/>
<circle cx="175.74" cy="397.98" r="4.2" fill="#3680c6"/>
<circle cx="194.21" cy="402.15" r="4.2" fill="#3680c6"/>
<circle cx="212.68" cy="399.17" r="4.2" fill="#3680c6"/>
<circle cx="231.15" cy="399.17" r="4.2" fill="#3680c6"/>
<circle cx="249.62" cy="406.91" r="4.2" fill="#3680c6"/>
<circle cx="268.09" cy="403.81" r="4.2" fill="#3680c6"/>
<circle cx="286.56" cy="403.81" r="4.2" fill="#3680c6"/>
<circle cx="305.03" cy="399.65" r="4.2" fill="#3680c6"/>
<circle cx="323.5" cy="398.34" r="4.2" fill="#3680c6"/>
<circle cx="341.97" cy="392.27" r="4.2" fill="#3680c6"/>
<circle cx="360.44" cy="395.25" r="4.2" fill="#3680c6"/>
<circle cx="378.91" cy="390.61" r="4.2" fill="#3680c6"/>
<circle cx="397.38" cy="395.25" r="4.2" fill="#3680c6"/>
<circle cx="415.85" cy="393.46" r="4.2" fill="#3680c6"/>
<circle cx="434.32" cy="396.91" r="4.2" fill="#3680c6"/>
<circle cx="452.79" cy="392.87" r="4.2" fill="#3680c6"/>
<circle cx="471.26" cy="391.08" r="4.2" fill="#3680c6"/>
<rect x="43.15" y="407.42" width="6.6" height="6.6" fill="#45e3e6"/>
<rect x="61.62" y="408.49" width="6.6" height="6.6" fill="#45e3e6"/>
<rect x="80.09" y="408.49" width="6.6" height="6.6" fill="#45e3e6"/>
<rect x="98.56" y="412.65" width="6.6" height="6.6" fill="#45e3e6"/>
<rect x="117.03" y="415.75" width="6.6" height="6.6" fill="#45e3e6"/>
<rect x="135.5" y="419.44" width="6.6" height="6.6" fill="#45e3e6"/>
<rect x="153.97" y="418.84" width="6.6" height="6.6" fill="#45e3e6"/>
<rect x="172.44" y="409.2" width="6.6" height="6.6" fill="#45e3e6"/>
<rect x="190.91" y="401.58" width="6.6" height="6.6" fill="#45e3e6"/>
<rect x="209.38" y="416.46" width="6.6" height="6.6" fill="#45e3e6"/>
<rect x="227.85" y="425.27" width="6.6" height="6.6" fill="#45e3e6"/>
<rect x="246.32" y="421.22" width="6.6" height="6.6" fill="#45e3e6"/>
<rect x="264.79" y="418.84" width="6.6" height="6.6" fill="#45e3e6"/>
<rect x="283.26" y="414.08" width="6.6" height="6.6" fill="#45e3e6"/>
<rect x="301.73" y="414.08" width="6.6" height="6.6" fill="#45e3e6"/>
<rect x="320.2" y="404.56" width="6.6" height="6.6" fill="#45e3e6"/>
<rect x="338.67" y="406.23" width="6.6" height="6.6" fill="#45e3e6"/>
<rect x="357.14" y="409.2" width="6.6" height="6.6" fill="#45e3e6"/>
<rect x="375.61" y="417.77" width="6.6" height="6.6" fill="#45e3e6"/>
<rect x="394.08" y="417.65" width="6.6" height="6.6" fill="#45e3e6"/>
<rect x="412.55" y="406.58" width="6.6" height="6.6" fill="#45e3e6"/>
<rect x="449.49" y="400.51" width="6.6" height="6.6" fill="#45e3e6"/>
<rect x="467.96" y="404.08" width="6.6" height="6.6" fill="#45e3e6"/>
<rect x="43.15" y="403.37" width="6.6" height="6.6" fill="#44b243"/>
<rect x="61.62" y="397.54" width="6.6" height="6.6" fill="#44b243"/>
<rect x="98.56" y="401.58" width="6.6" height="6.6" fill="#44b243"/>
<rect x="117.03" y="396.23" width="6.6" height="6.6" fill="#44b243"/>
<rect x="135.5" y="392.9" width="6.6" height="6.6" fill="#44b243"/>
<rect x="153.97" y="398.49" width="6.6" height="6.6" fill="#44b243"/>
<rect x="172.44" y="401.11" width="6.6" height="6.6" fill="#44b243"/>
<rect x="190.91" y="406.7" width="6.6" height="6.6" fill="#44b243"/>
<rect x="209.38" y="398.85" width="6.6" height="6.6" fill="#44b243"/>
<rect x="227.85" y="397.54" width="6.6" height="6.6" fill="#44b243"/>
<rect x="246.32" y="396.82" width="6.6" height="6.6" fill="#44b243"/>
<rect x="264.79" y="403.37" width="6.6" height="6.6" fill="#44b243"/>
<rect x="283.26" y="410.87" width="6.6" height="6.6" fill="#44b243"/>
<rect x="301.73" y="410.15" width="6.6" height="6.6" fill="#44b243"/>
<rect x="320.2" y="410.51" width="6.6" height="6.6" fill="#44b243"/>
<rect x="338.67" y="395.4" width="6.6" height="6.6" fill="#44b243"/>
<rect x="357.14" y="399.32" width="6.6" height="6.6" fill="#44b243"/>
<rect x="375.61" y="395.87" width="6.6" height="6.6" fill="#44b243"/>
<rect x="394.08" y="395.4" width="6.6" height="6.6" fill="#44b243"/>
<rect x="412.55" y="393.61" width="6.6" height="6.6" fill="#44b243"/>
<rect x="431.02" y="393.85" width="6.6" height="6.6" fill="#44b243"/>
<rect x="449.49" y="396.35" width="6.6" height="6.6" fill="#44b243"/>
<rect x="467.96" y="393.37" width="6.6" height="6.6" fill="#44b243"/>
<path d="M46.45 447.2L50.55 452.6L46.45 458L42.35 452.6Z" fill="#b25428"/>
<path d="M64.92 444.59L69.02 449.99L64.92 455.39L60.82 449.99Z" fill="#b25428"/>
<path d="M83.39 448.87L87.49 454.27L83.39 459.67L79.29 454.27Z" fill="#b25428"/>
<path d="M101.86 445.54L105.96 450.94L101.86 456.34L97.76 450.94Z" fill="#b25428"/>
<path d="M120.33 437.45L124.43 442.85L120.33 448.25L116.23 442.85Z" fill="#b25428"/>
<path d="M138.8 435.19L142.9 440.58L138.8 445.98L134.7 440.58Z" fill="#b25428"/>
<path d="M157.27 439.83L161.37 445.23L157.27 450.63L153.17 445.23Z" fill="#b25428"/>
<path d="M175.74 448.16L179.84 453.56L175.74 458.96L171.64 453.56Z" fill="#b25428"/>
<path d="M194.21 442.92L198.31 448.32L194.21 453.72L190.11 448.32Z" fill="#b25428"/>
<path d="M212.68 432.21L216.78 437.61L212.68 443.01L208.58 437.61Z" fill="#b25428"/>
<path d="M231.15 429.95L235.25 435.35L231.15 440.75L227.05 435.35Z" fill="#b25428"/>
<path d="M249.62 429.95L253.72 435.35L249.62 440.75L245.52 435.35Z" fill="#b25428"/>
<path d="M268.09 432.21L272.19 437.61L268.09 443.01L263.99 437.61Z" fill="#b25428"/>
<path d="M286.56 434.59L290.66 439.99L286.56 445.39L282.46 439.99Z" fill="#b25428"/>
<path d="M305.03 435.19L309.13 440.58L305.03 445.98L300.93 440.58Z" fill="#b25428"/>
<path d="M323.5 442.92L327.6 448.32L323.5 453.72L319.4 448.32Z" fill="#b25428"/>
<path d="M341.97 444.23L346.07 449.63L341.97 455.03L337.87 449.63Z" fill="#b25428"/>
<path d="M360.44 439.47L364.54 444.87L360.44 450.27L356.34 444.87Z" fill="#b25428"/>
<path d="M378.91 446.37L383.01 451.77L378.91 457.17L374.81 451.77Z" fill="#b25428"/>
<path d="M397.38 448.87L401.48 454.27L397.38 459.67L393.28 454.27Z" fill="#b25428"/>
<path d="M415.85 442.56L419.95 447.96L415.85 453.36L411.75 447.96Z" fill="#b25428"/>
<path d="M434.32 432.21L438.42 437.61L434.32 443.01L430.22 437.61Z" fill="#b25428"/>
<path d="M452.79 428.28L456.89 433.68L452.79 439.08L448.69 433.68Z" fill="#b25428"/>
<path d="M471.26 439.83L475.36 445.23L471.26 450.63L467.16 445.23Z" fill="#b25428"/>
<path d="M46.45 430.9L50.55 436.3L46.45 441.7L42.35 436.3Z" fill="#000000"/>
<path d="M64.92 401.98L69.02 407.38L64.92 412.78L60.82 407.38Z" fill="#000000"/>
<path d="M83.39 393.3L87.49 398.7L83.39 404.1L79.29 398.7Z" fill="#000000"/>
<path d="M101.86 395.44L105.96 400.84L101.86 406.24L97.76 400.84Z" fill="#000000"/>
<path d="M120.33 388.66L124.43 394.06L120.33 399.46L116.23 394.06Z" fill="#000000"/>
<path d="M138.8 397.82L142.9 403.22L138.8 408.62L134.7 403.22Z" fill="#000000"/>
<path d="M157.27 415.31L161.37 420.71L157.27 426.11L153.17 420.71Z" fill="#000000"/>
<path d="M175.74 432.92L179.84 438.32L175.74 443.72L171.64 438.32Z" fill="#000000"/>
<path d="M194.21 438.64L198.31 444.04L194.21 449.44L190.11 444.04Z" fill="#000000"/>
<path d="M212.68 417.93L216.78 423.33L212.68 428.73L208.58 423.33Z" fill="#000000"/>
<path d="M231.15 414.48L235.25 419.88L231.15 425.28L227.05 419.88Z" fill="#000000"/>
<path d="M249.62 400.68L253.72 406.07L249.62 411.47L245.52 406.07Z" fill="#000000"/>
<path d="M268.09 391.99L272.19 397.39L268.09 402.79L263.99 397.39Z" fill="#000000"/>
<path d="M286.56 418.53L290.66 423.93L286.56 429.32L282.46 423.93Z" fill="#000000"/>
<path d="M305.03 420.43L309.13 425.83L305.03 431.23L300.93 425.83Z" fill="#000000"/>
<path d="M323.5 431.14L327.6 436.54L323.5 441.94L319.4 436.54Z" fill="#000000"/>
<path d="M341.97 430.9L346.07 436.3L341.97 441.7L337.87 436.3Z" fill="#000000"/>
<path d="M360.44 411.03L364.54 416.43L360.44 421.83L356.34 416.43Z" fill="#000000"/>
<path d="M378.91 411.5L383.01 416.9L378.91 422.3L374.81 416.9Z" fill="#000000"/>
<path d="M397.38 412.69L401.48 418.09L397.38 423.49L393.28 418.09Z" fill="#000000"/>
<path d="M415.85 401.51L419.95 406.91L415.85 412.31L411.75 406.91Z" fill="#000000"/>
<path d="M434.32 398.41L438.42 403.81L434.32 409.21L430.22 403.81Z" fill="#000000"/>
<path d="M452.79 408.77L456.89 414.17L452.79 419.57L448.69 414.17Z" fill="#000000"/>
<path d="M471.26 431.14L475.36 436.54L471.26 441.94L467.16 436.54Z" fill="#000000"/>
<path d="M41.5 403.1H475.5" stroke="#000" stroke-width="1.6"/>
<path d="M184.97 355.5V474.5" stroke="#f02424" stroke-width="1.9"/>
<path d="M332.73 355.5V474.5" stroke="#f02424" stroke-width="1.9"/>
<path d="M46.45 474.5v-4.8M46.45 355.5v4.8M64.92 474.5v-4.8M64.92 355.5v4.8M83.39 474.5v-4.8M83.39 355.5v4.8M101.86 474.5v-4.8M101.86 355.5v4.8M120.33 474.5v-4.8M120.33 355.5v4.8M138.8 474.5v-4.8M138.8 355.5v4.8M157.27 474.5v-4.8M157.27 355.5v4.8M175.74 474.5v-4.8M175.74 355.5v4.8M194.21 474.5v-4.8M194.21 355.5v4.8M212.68 474.5v-4.8M212.68 355.5v4.8M231.15 474.5v-4.8M231.15 355.5v4.8M249.62 474.5v-4.8M249.62 355.5v4.8M268.09 474.5v-4.8M268.09 355.5v4.8M286.56 474.5v-4.8M286.56 355.5v4.8M305.03 474.5v-4.8M305.03 355.5v4.8M323.5 474.5v-4.8M323.5 355.5v4.8M341.97 474.5v-4.8M341.97 355.5v4.8M360.44 474.5v-4.8M360.44 355.5v4.8M378.91 474.5v-4.8M378.91 355.5v4.8M397.38 474.5v-4.8M397.38 355.5v4.8M415.85 474.5v-4.8M415.85 355.5v4.8M434.32 474.5v-4.8M434.32 355.5v4.8M452.79 474.5v-4.8M452.79 355.5v4.8M471.26 474.5v-4.8M471.26 355.5v4.8M41.5 450.7h4.8M475.5 450.7h-4.8M41.5 426.9h4.8M475.5 426.9h-4.8M41.5 403.1h4.8M475.5 403.1h-4.8M41.5 379.3h4.8M475.5 379.3h-4.8" stroke="#8a8a8a" stroke-width="1" fill="none"/>
<rect x="41.5" y="355.5" width="434.0" height="119.0" stroke="#8a8a8a" stroke-width="1" fill="none"/>
<g font-family="Liberation Sans, Arial, sans-serif" font-size="10" fill="#1a1a1a" stroke="#1a1a1a" stroke-width="0.18"><text x="46.45" y="489.7" text-anchor="middle">1</text><text x="64.92" y="489.7" text-anchor="middle">2</text><text x="83.39" y="489.7" text-anchor="middle">3</text><text x="101.86" y="489.7" text-anchor="middle">4</text><text x="120.33" y="489.7" text-anchor="middle">5</text><text x="138.8" y="489.7" text-anchor="middle">6</text><text x="157.27" y="489.7" text-anchor="middle">7</text><text x="175.74" y="489.7" text-anchor="middle">8</text><text x="194.21" y="489.7" text-anchor="middle">9</text><text x="212.68" y="489.7" text-anchor="middle">10</text><text x="231.15" y="489.7" text-anchor="middle">11</text><text x="249.62" y="489.7" text-anchor="middle">12</text><text x="268.09" y="489.7" text-anchor="middle">13</text><text x="286.56" y="489.7" text-anchor="middle">14</text><text x="305.03" y="489.7" text-anchor="middle">15</text><text x="323.5" y="489.7" text-anchor="middle">16</text><text x="341.97" y="489.7" text-anchor="middle">17</text><text x="360.44" y="489.7" text-anchor="middle">18</text><text x="378.91" y="489.7" text-anchor="middle">19</text><text x="397.38" y="489.7" text-anchor="middle">20</text><text x="415.85" y="489.7" text-anchor="middle">21</text><text x="434.32" y="489.7" text-anchor="middle">22</text><text x="452.79" y="489.7" text-anchor="middle">23</text><text x="471.26" y="489.7" text-anchor="middle">24</text><text x="38" y="478.9" text-anchor="end">0.4</text><text x="38" y="455.1" text-anchor="end">0.6</text><text x="38" y="431.3" text-anchor="end">0.8</text><text x="38" y="407.5" text-anchor="end">1.0</text><text x="38" y="383.7" text-anchor="end">1.2</text><text x="38" y="359.9" text-anchor="end">1.4</text></g>
<g font-family="Liberation Sans, Arial, sans-serif" font-size="11.2" fill="#000" stroke="#000" stroke-width="0.18"><text x="111.39" y="371.8" text-anchor="middle">Plane A</text><text x="259.15" y="371.8" text-anchor="middle">Plane B</text><text x="407.61" y="371.8" text-anchor="middle">Plane C</text></g>
<text font-family="Liberation Sans, Arial, sans-serif" font-size="13.75" fill="#000" stroke="#000" stroke-width="0.15" x="46.5" y="349.3">(c) 16 stations (Europe)</text>
<text font-family="Liberation Sans, Arial, sans-serif" font-size="11" fill="#1a1a1a" stroke="#1a1a1a" stroke-width="0.18" x="258" y="504.5" text-anchor="middle">Satellite Vehicle Number</text>
<text font-family="Liberation Sans, Arial, sans-serif" font-size="10.9" fill="#1a1a1a" stroke="#1a1a1a" stroke-width="0.18" transform="translate(18.2 415) rotate(-90)" text-anchor="middle">Bias [cm]</text>
<rect x="4.5" y="512.5" width="477" height="32" stroke="#8a8a8a" stroke-width="1" fill="#fff"/>
<path d="M26.8 521.3H35.2M31 517.1V525.5M28.03 518.33L33.97 524.27M28.03 524.27L33.97 518.33" stroke="#8a3aa6" stroke-width="1.05" fill="none"/>
<circle cx="31" cy="533.2" r="4.2" fill="#fd800a"/>
<rect x="147.7" y="518.2" width="6.6" height="6.6" fill="#45e3e6"/>
<path d="M151 528.1L155.1 533.5L151 538.9L146.9 533.5Z" fill="#b25428"/>
<path d="M266.1 521.2H274.5M270.3 517V525.4M267.33 518.23L273.27 524.17M267.33 524.17L273.27 518.23" stroke="#f27ad2" stroke-width="1.05" fill="none"/>
<circle cx="270" cy="533" r="4.2" fill="#3680c6"/>
<rect x="386.7" y="518.2" width="6.6" height="6.6" fill="#44b243"/>
<path d="M390 528.1L394.1 533.5L390 538.9L385.9 533.5Z" fill="#000000"/>
<g font-family="Liberation Sans, Arial, sans-serif" font-size="9.1" fill="#000" stroke="#000" stroke-width="0.15"><text x="57.3" y="524.6">SDOW (Nominal)</text><text x="57.3" y="537.4">SOW (Nominal)</text><text x="177.0" y="524.8">IPC (Nominal)</text><text x="177.0" y="537.7">IPO (Nominal)</text><text x="296.7" y="524.5">SDOW (Förstner)</text><text x="296.7" y="537.2">SOW (Förstner)</text><text x="416.0" y="524.8">IPC (Förstner)</text><text x="416.0" y="537.7">IPO (Förstner)</text></g>
</svg></body></html>
